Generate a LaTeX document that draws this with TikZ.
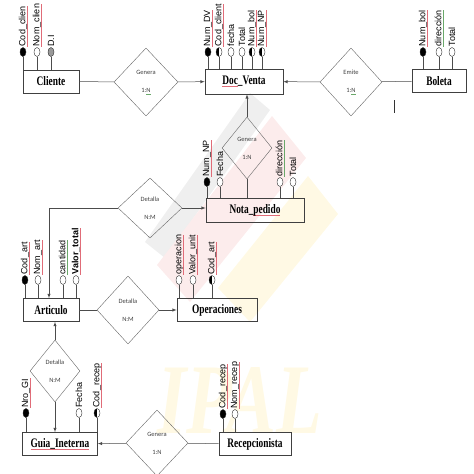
\documentclass[tikz,border=0pt]{standalone}
\usepackage{fontspec}
\setmainfont{Liberation Serif}
\setsansfont{Liberation Sans}
\newfontfamily\entfont[FakeStretch=0.72]{Liberation Serif}
\newfontfamily\wmfont[FakeStretch=0.75]{Liberation Serif}
\newfontfamily\relfont{Carlito}
\usetikzlibrary{positioning}
\usetikzlibrary{calc}
\usetikzlibrary{arrows,shapes}

\definecolor{wmgrey}{HTML}{EFEFEF}
\definecolor{wmred}{HTML}{FCECEC}
\definecolor{wmyellow}{HTML}{FFF9E4}
\definecolor{spellred}{HTML}{E06C78}
\definecolor{spellgreen}{HTML}{6AA86A}

\newcommand\sred[1]{\setbox0\hbox{#1}\rlap{\color{spellred}\rule[-2pt]{\wd0}{0.5pt}}\box0}
\newcommand\sgreen[1]{\setbox0\hbox{#1}\rlap{\color{spellgreen}\rule[-2pt]{\wd0}{0.5pt}}\box0}

\tikzset{
	entity/.style={draw=black!75, line width=0.6pt, rectangle, minimum height=23pt, inner sep=0pt,
		font=\entfont\bfseries\fontsize{13}{13}\selectfont},
	relation/.style={diamond, draw=black!60, inner sep=0pt, align=center, text=black!75,
		font=\relfont\fontsize{6.5}{7}\selectfont},
	attdot/.style={ellipse, draw=black!80, minimum width=6pt, minimum height=9pt, inner sep=0pt},
	lefthalf/.style={path picture={\fill[#1] (path picture bounding box.south west) rectangle (path picture bounding box.north);}},
	atttext/.style={rotate=90, anchor=west, inner sep=0.6pt, font=\sffamily\fontsize{9}{9}\selectfont},
	link/.style={draw=black!70, line width=0.5pt}
}

\begin{document}
\begin{tikzpicture}[x=1pt, y=-1pt, >=latex]
	\useasboundingbox (0,0) rectangle (474,474);

	% watermark
	\fill[wmgrey] (250,93) -- (270,110) -- (165,258) -- (145,242) -- cycle;
	\fill[wmred] (272,116) -- (306,158) -- (190,302) -- (157,265) -- cycle;
	\fill[wmyellow] (308,176) -- (338,214) -- (250,322) -- (218,288) -- cycle;
	\node[text=wmyellow, inner sep=0pt, font=\wmfont\bfseries\itshape\fontsize{100}{100}\selectfont] (logo) at (240,400) {IPAL};

	% entities
	\node[entity, minimum width=56pt] (cliente) at (51,81.5) {Cliente};
	\node[entity, minimum width=78pt, minimum height=25pt] (docventa) at (244,81.5) {\sred{Doc}\_Venta};
	\node[entity, minimum width=54pt] (boleta) at (439,81) {Boleta};
	\node[entity, minimum width=98pt, minimum height=24pt] (notapedido) at (255,210) {Nota\_\sred{pedido}};
	\node[entity, minimum width=56pt] (articulo) at (51,310) {Articulo};
	\node[entity, minimum width=80pt] (operaciones) at (217,310) {Operaciones};
	\node[entity, minimum width=75pt] (guia) at (60,444) {\sred{Guia\_Ineterna}};
	\node[entity, minimum width=72pt] (recep) at (255,444) {Recepcionista};

	% relations
	\node[relation, minimum width=64pt, minimum height=68pt] (genera1) at (146,82) {Genera\\[11pt]1:\sgreen{N}};
	\node[relation, minimum width=62pt, minimum height=68pt] (emite) at (351,82) {Emite\\[11pt]1:\sgreen{N}};
	\node[relation, minimum width=50pt, minimum height=62pt] (genera2) at (247,148) {Genera\\[11pt]1:N};
	\node[relation, minimum width=64pt, minimum height=60pt] (detalla1) at (150,208) {Detalla\\[11pt]N:M};
	\node[relation, minimum width=62pt, minimum height=68pt] (detalla2) at (128,310) {Detalla\\[11pt]N:M};
	\node[relation, minimum width=50pt, minimum height=62pt] (detalla3) at (55,371) {Detalla\\[11pt]N:M};
	\node[relation, minimum width=62pt, minimum height=66pt] (genera3) at (157,443) {Genera\\[11pt]1:N};

	% attributes
	\foreach \x/\t/\l/\r [count=\i] in {23/{\sred{Cod\_clien}}/black/black, 37/{\sred{Nom\_clien}}/white/white, 51/{D.I}/black!40/black!40}{
		\node[attdot, fill=\r, lefthalf=\l] (cli\i) at (\x,52) {};
		\node[atttext] (clit\i) at (cli\i.north) {\t};
		\draw[link] (cli\i) -- (cli\i |- cliente.north);
	}
	\foreach \x/\t/\l/\r [count=\i] in {208/{\sred{Num\_DV}}/black/black, 219/{\sred{Cod\_client}}/black/white, 231/{fecha}/white/white,
			242/{Total}/white/white, 252/{\sred{Num\_bol}}/black/white, 262/{\sred{Num\_NP}}/black/white}{
		\node[attdot, fill=\r, lefthalf=\l] (doc\i) at (\x,52) {};
		\node[atttext] (doct\i) at (doc\i.north) {\t};
		\draw[link] (doc\i) -- (doc\i |- docventa.north);
	}
	\foreach \x/\t/\l/\r [count=\i] in {423/{\sred{Num\_bol}}/black/black, 439/{\sgreen{dirección}}/white/white, 452/{Total}/white/white}{
		\node[attdot, fill=\r, lefthalf=\l] (bol\i) at (\x,52) {};
		\node[atttext] (bolt\i) at (bol\i.north) {\t};
		\draw[link] (bol\i) -- (bol\i |- boleta.north);
	}
	\foreach \x/\t/\l/\r [count=\i] in {207/{\sred{Num\_NP}}/black/black, 220/{Fecha}/white/white, 280/{\sgreen{dirección}}/white/white, 293/{Total}/white/white}{
		\node[attdot, fill=\r, lefthalf=\l] (np\i) at (\x,182) {};
		\node[atttext] (npt\i) at (np\i.north) {\t};
		\draw[link] (np\i) -- (np\i |- notapedido.north);
	}
	\foreach \x/\t/\l/\r [count=\i] in {25/{\sred{Cod\_art}}/black/black, 38/{\sred{Nom\_art}}/white/white,
			63/{\sgreen{cantidad}}/white/white, 76/{\sred{\bfseries Valor\_total}}/white/white}{
		\node[attdot, fill=\r, lefthalf=\l] (art\i) at (\x,280) {};
		\node[atttext] (artt\i) at (art\i.north) {\t};
		\draw[link] (art\i) -- (art\i |- articulo.north);
	}
	\foreach \x/\t/\l/\r [count=\i] in {179/{\sred{operacion}}/white/white, 193/{\sred{Valor\_unit}}/white/white, 212/{\sred{Cod\_art}}/black/white}{
		\node[attdot, fill=\r, lefthalf=\l] (op\i) at (\x,280) {};
		\node[atttext] (opt\i) at (op\i.north) {\t};
		\draw[link] (op\i) -- (op\i |- operaciones.north);
	}
	\foreach \x/\t/\l/\r [count=\i] in {26/{\sred{Nro\_GI}}/black/black, 79/{Fecha}/white/white, 97/{\sred{Cod\_recep}}/black/white}{
		\node[attdot, fill=\r, lefthalf=\l] (gi\i) at (\x,413) {};
		\node[atttext] (git\i) at (gi\i.north) {\t};
		\draw[link] (gi\i) -- (gi\i |- guia.north);
	}
	\foreach \x/\t/\l/\r [count=\i] in {223/{\sred{Cod\_recep}}/black/black, 235/{\sred{Nom\_recep}}/white/white}{
		\node[attdot, fill=\r, lefthalf=\l] (rc\i) at (\x,414) {};
		\node[atttext] (rct\i) at (rc\i.north) {\t};
		\draw[link] (rc\i) -- (rc\i |- recep.north);
	}

	% connectors
	\draw[link] (cliente) -- (genera1);
	\draw[link,->] (genera1) -- (docventa);
	\draw[link] (boleta) -- (emite);
	\draw[link,->] (emite) -- (docventa);
	\draw[link,->] (genera2.north) -- (genera2.north |- docventa.south);
	\draw[link] (genera2.south) -- (genera2.south |- notapedido.north);
	\coordinate (turn) at (49,208);
	\draw[link,->] (detalla1.west) -- (turn) -- (turn |- articulo.north);
	\draw[link,->] (detalla1.east) -- (detalla1.east -| notapedido.west);
	\draw[link] (articulo) -- (detalla2);
	\draw[link,->] (detalla2) -- (operaciones);
	\draw[link,->] (detalla3.north) -- (detalla3.north |- articulo.south);
	\draw[link,->] (detalla3.south) -- (detalla3.south |- guia.north);
	\draw[link] (recep) -- (genera3);
	\draw[link,->] (genera3) -- (guia);

	% stray cursor mark
	\draw[black!80, line width=0.6pt] (394,100) -- (394,113);
\end{tikzpicture}
\end{document}
